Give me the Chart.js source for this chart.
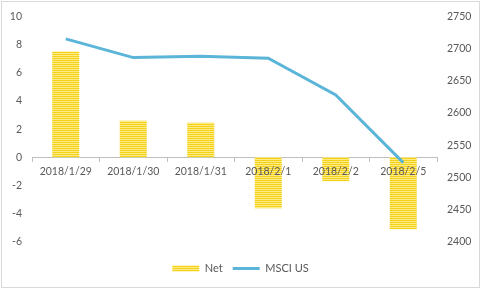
<!DOCTYPE html>
<html>
<head>
<meta charset="utf-8">
<script src="https://cdn.jsdelivr.net/npm/chart.js@4.4.1/dist/chart.umd.min.js"></script>
<style>
  html, body { margin: 0; padding: 0; background: #fff; }
  #wrap { width: 481px; height: 289px; position: relative; }
</style>
</head>
<body>
<div id="wrap"><canvas id="c" width="481" height="289"></canvas></div>
<script>
const categories = ['2018/1/29', '2018/1/30', '2018/1/31', '2018/2/1', '2018/2/2', '2018/2/5'];
const netValues = [7.5, 2.6, 2.45, -3.6, -1.7, -5.1];
const msciValues = [2715, 2686, 2688, 2685, 2628, 2523];
const leftTickStep = 2;
const rightTickStep = 50;

function makePattern() {
  const p = document.createElement('canvas');
  p.width = 4; p.height = 2;
  const g = p.getContext('2d');
  g.fillStyle = '#F4D11A'; g.fillRect(0, 0, 4, 1);
  g.fillStyle = '#FFEB86'; g.fillRect(0, 1, 4, 1);
  return g.createPattern(p, 'repeat');
}
const barPattern = makePattern();
const lineColor = '#5AB5D8';
const textColor = '#595959';
const fontFam = 'Lato, "Open Sans", sans-serif';
const fontSize = 10.5;

const borderPlugin = {
  id: 'outerBorder',
  beforeDraw(chart) {
    const ctx = chart.ctx;
    ctx.save();
    ctx.fillStyle = '#fff';
    ctx.fillRect(0, 0, chart.width, chart.height);
    ctx.strokeStyle = '#D9D9D9';
    ctx.lineWidth = 1;
    ctx.strokeRect(1.5, 1.5, 478, 286);
    ctx.restore();
  }
};

const chart = new Chart(document.getElementById('c'), {
  type: 'bar',
  data: {
    labels: categories,
    datasets: [
      { type: 'line', label: 'MSCI US', data: msciValues, yAxisID: 'y2', borderColor: lineColor, backgroundColor: lineColor, borderWidth: 3, pointRadius: 0, tension: 0, order: 0 },
      { type: 'bar', label: 'Net', data: netValues, yAxisID: 'y', backgroundColor: barPattern, borderWidth: 0, barPercentage: 0.4, categoryPercentage: 1.0, order: 1 }
    ]
  },
  options: {
    responsive: false, animation: false, devicePixelRatio: 1,
    layout: { padding: { top: 8.7, bottom: 5, left: 0, right: 0 } },
    plugins: {
      tooltip: { enabled: false },
      legend: { position: 'bottom', reverse: true,
        title: { display: true, text: ' ', font: { size: 6, lineHeight: 1 }, padding: { top: 2.5, bottom: 2.5 } },
        labels: { color: textColor, font: { family: fontFam, size: 11 }, usePointStyle: true, pointStyleWidth: 27, boxHeight: 6, padding: 10,
          generateLabels(chart) {
            return chart.data.datasets.map((ds, i) => ({ text: ds.label, fillStyle: ds.type === 'bar' ? barPattern : lineColor, strokeStyle: ds.type === 'bar' ? barPattern : lineColor, lineWidth: ds.type === 'bar' ? 0 : 3, pointStyle: ds.type === 'bar' ? 'rect' : 'line', fontColor: textColor, hidden: false, datasetIndex: i }));
          } } }
    },
    scales: {
      x: { position: { y: 0 }, offset: true,
        grid: { display: true, drawOnChartArea: false, drawTicks: true, tickLength: 4, offset: true, color: '#BFBFBF' },
        border: { display: true, color: '#BFBFBF', width: 1 },
        ticks: { z: 1, color: textColor, font: { family: fontFam, size: fontSize }, padding: 4, maxRotation: 0, autoSkip: false } },
      y: { position: 'left', min: -6, max: 10, afterFit(scale) { scale.width = 32; },
        grid: { display: false, drawTicks: false, tickLength: 0 }, border: { display: false },
        ticks: { stepSize: leftTickStep, autoSkip: false, color: textColor, font: { family: fontFam, size: fontSize }, padding: 10, callback: v => String(v) } },
      y2: { position: 'right', min: 2400, max: 2750, afterFit(scale) { scale.width = 44; },
        grid: { display: false, drawTicks: false, tickLength: 0 }, border: { display: false },
        ticks: { stepSize: rightTickStep, autoSkip: false, color: textColor, font: { family: fontFam, size: fontSize }, padding: 10, callback: v => String(v) } }
    }
  },
  plugins: [borderPlugin]
});
if (document.fonts && document.fonts.ready) {
  document.fonts.ready.then(() => chart.update());
}
</script>
</body>
</html>
